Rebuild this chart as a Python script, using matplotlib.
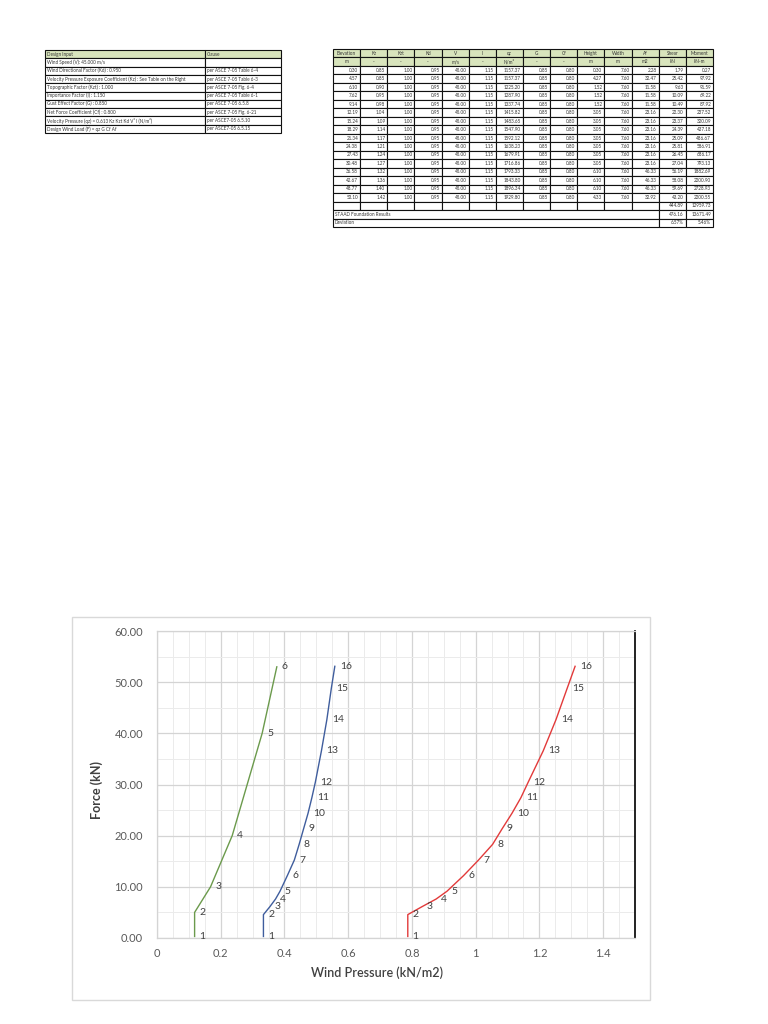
import matplotlib
matplotlib.use("Agg")
import matplotlib.pyplot as plt
from matplotlib.patches import Rectangle
from matplotlib.ticker import MultipleLocator, FormatStrFormatter, FuncFormatter

plt.rcParams["font.family"] = ["Lato", "DejaVu Sans"]

# ---- design input table (top left) ----
design_input = [
    "Design Input",
    "Wind Speed (V): 45.000 m/s",
    "Wind Directional Factor (Kd) : 0.950",
    "Velocity Pressure Exposure Coefficient (Kz) : See Table on the Right",
    "Topographic Factor (Kzt) : 1.000",
    "Importance Factor (I) : 1.150",
    "Gust Effect Factor (G) : 0.850",
    "Net Force Coefficient (Cf) : 0.800",
    "Velocity Pressure (qz) = 0.613 Kz Kzt Kd V² I (N/m²)",
    "Design Wind Load (F) = qz G Cf Af",
]
clause = [
    "Clause",
    "",
    "per ASCE 7-05 Table 6-4",
    "per ASCE 7-05 Table 6-3",
    "per ASCE 7-05 Fig. 6-4",
    "per ASCE 7-05 Table 6-1",
    "per ASCE 7-05 6.5.8",
    "per ASCE 7-05 Fig. 6-21",
    "per ASCE7-05 6.5.10",
    "per ASCE7-05 6.5.15",
]

# ---- wind load table (top right) ----
col_names = ["Elevation", "Kz", "Kzt", "Kd", "V", "I", "qz", "G", "Cf",
             "Height", "Width", "Af", "Shear", "Moment"]
col_units = ["m", "-", "-", "-", "m/s", "-", "N/m²", "-", "-",
             "m", "m", "m2", "kN", "kN-m"]
elevation = [0.30, 4.57, 6.10, 7.62, 9.14, 12.19, 15.24, 18.29, 21.34,
             24.38, 27.43, 30.48, 36.58, 42.67, 48.77, 53.10]
kz = [0.85, 0.85, 0.90, 0.95, 0.98, 1.04, 1.09, 1.14, 1.17, 1.21, 1.24,
      1.27, 1.32, 1.36, 1.40, 1.42]
kzt = [1.00] * 16
kd = [0.95] * 16
speed = [45.00] * 16
imp = [1.15] * 16
qz = [1157.37, 1157.37, 1225.20, 1287.90, 1337.74, 1415.82, 1483.65,
      1547.90, 1592.12, 1638.23, 1679.91, 1716.86, 1793.33, 1843.80,
      1896.34, 1929.80]
gust = [0.85] * 16
cf = [0.80] * 16
seg_height = [0.30, 4.27, 1.52, 1.52, 1.52, 3.05, 3.05, 3.05, 3.05, 3.05,
              3.05, 3.05, 6.10, 6.10, 6.10, 4.33]
seg_width = [7.60] * 16
af = [2.28, 32.47, 11.58, 11.58, 11.58, 23.16, 23.16, 23.16, 23.16, 23.16,
      23.16, 23.16, 46.33, 46.33, 46.33, 32.92]
shear = [1.79, 25.42, 9.63, 10.09, 10.49, 22.30, 23.37, 24.39, 25.09,
         25.81, 26.45, 27.04, 56.19, 58.08, 59.69, 43.20]
moment = [0.27, 97.92, 91.59, 69.22, 87.92, 237.52, 320.09, 437.18,
          486.67, 586.91, 686.17, 793.13, 1882.69, 2200.90, 2728.93, 2200.55]
total_row = ["444.89", "12959.73"]
staad_row = ["STAAD Foundation Results", "476.16", "13671.49"]
deviation_row = ["Deviation", "6.57%", "5.46%"]

# ---- chart data ----
green_pressure = [0.118, 0.118, 0.168, 0.236, 0.330, 0.376]
green_force = [0.3, 5.0, 10.0, 20.0, 40.0, 53.0]
blue_pressure = [0.334, 0.334, 0.354, 0.372, 0.386, 0.409, 0.431, 0.446,
                 0.460, 0.474, 0.486, 0.497, 0.516, 0.533, 0.547, 0.558]
red_pressure = [0.787, 0.787, 0.831, 0.876, 0.910, 0.962, 1.009, 1.053,
                1.083, 1.114, 1.142, 1.165, 1.212, 1.252, 1.287, 1.312]
x_ticks = [0, 0.2, 0.4, 0.6, 0.8, 1.0, 1.2, 1.4]

W, H = 768, 1024
fig = plt.figure(figsize=(W / 100, H / 100), dpi=100)

# page axes in pixel coords for the tables
page = fig.add_axes([0, 0, 1, 1], zorder=0)
page.set_xlim(0, W)
page.set_ylim(H, 0)
page.axis("off")

HEAD = "#d8e4bc"
TFS = 3.3


def cell(x, y, w, h, text="", fill="white", ha="left"):
    page.add_patch(Rectangle((x, y), w, h, facecolor=fill, edgecolor="#111111", lw=0.8))
    if text:
        if ha == "left":
            tx = x + 2
        elif ha == "right":
            tx = x + w - 2
        else:
            tx = x + w / 2
        page.text(tx, y + h / 2, text, fontsize=TFS, ha=ha, va="center", color="#333333")


# left table
lx, ly, rh = 45, 50, 8.3
for i, (a, b) in enumerate(zip(design_input, clause)):
    fill = HEAD if i == 0 else "white"
    cell(lx, ly + i * rh, 160, rh, a, fill)
    cell(lx + 160, ly + i * rh, 76, rh, b, fill)

# right table
rx, ry, cw, rh2 = 333, 49, 380 / 14, 178 / 21
for j, (n, u) in enumerate(zip(col_names, col_units)):
    cell(rx + j * cw, ry, cw, rh2, n, HEAD, "center")
    cell(rx + j * cw, ry + rh2, cw, rh2, u, HEAD, "center")
columns = [elevation, kz, kzt, kd, speed, imp, qz, gust, cf, seg_height,
           seg_width, af, shear, moment]
for i in range(16):
    y = ry + (i + 2) * rh2
    for j, col in enumerate(columns):
        cell(rx + j * cw, y, cw, rh2, f"{col[i]:.2f}", "white", "right")
y = ry + 18 * rh2
for j in range(12):
    cell(rx + j * cw, y, cw, rh2)
cell(rx + 12 * cw, y, cw, rh2, total_row[0], "white", "right")
cell(rx + 13 * cw, y, cw, rh2, total_row[1], "white", "right")
for k, row in enumerate([staad_row, deviation_row]):
    y = ry + (19 + k) * rh2
    cell(rx, y, 12 * cw, rh2, row[0])
    cell(rx + 12 * cw, y, cw, rh2, row[1], "white", "right")
    cell(rx + 13 * cw, y, cw, rh2, row[2], "white", "right")

# chart frame
fig.patches.append(Rectangle((72 / W, 1 - 1000 / H), 578 / W, 383 / H,
                             transform=fig.transFigure, facecolor="white",
                             edgecolor="#d9d9d9", lw=1.0, zorder=0.5))

ax = fig.add_axes([157 / W, 1 - 938 / H, 478 / W, 307 / H], zorder=2)
ax.set_facecolor("none")

series = [
    (green_pressure, green_force, "#6b9a4c"),
    (blue_pressure, elevation, "#3f5d9d"),
    (red_pressure, elevation, "#e23a3a"),
]
for xs, ys, color in series:
    ax.plot(xs, ys, color=color, lw=1.0, zorder=3)
    for k, (xv, yv) in enumerate(zip(xs, ys)):
        ax.annotate(str(k + 1), (xv, yv), xytext=(3.5, 0), textcoords="offset points",
                    ha="left", va="center", fontsize=7.5, color="#404040", zorder=4)

ax.set_xlim(0, 1.5)
ax.set_ylim(0, 60)
ax.set_xticks(x_ticks)
ax.xaxis.set_major_formatter(FuncFormatter(lambda v, _: f"{v:g}"))
ax.xaxis.set_minor_locator(MultipleLocator(0.05))
ax.yaxis.set_major_locator(MultipleLocator(10))
ax.yaxis.set_minor_locator(MultipleLocator(5))
ax.yaxis.set_major_formatter(FormatStrFormatter("%.2f"))
ax.grid(which="major", color="#d4d4d4", lw=0.9, zorder=1)
ax.grid(which="minor", color="#ebebeb", lw=0.7, zorder=1)
ax.set_axisbelow(True)
ax.tick_params(which="both", length=0, labelsize=8, labelcolor="#595959")
ax.tick_params(axis="y", pad=10)
ax.tick_params(axis="x", pad=7)
for s in ["left", "top", "bottom"]:
    ax.spines[s].set_color("#d4d4d4")
    ax.spines[s].set_linewidth(0.9)
ax.spines["right"].set_color("#111111")
ax.spines["right"].set_linewidth(1.3)

ax.set_xlabel("Wind Pressure (kN/m2)", fontsize=9, color="#404040", fontweight="semibold",
              va="center")
ax.xaxis.set_label_coords(0.461, -0.114)
ax.set_ylabel("Force (kN)", fontsize=9, color="#404040", fontweight="bold", va="center")
ax.yaxis.set_label_coords(-0.127, 0.482)

fig.savefig("out.png", dpi=100)
